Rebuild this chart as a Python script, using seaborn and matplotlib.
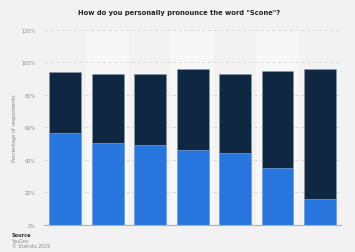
import matplotlib
matplotlib.use("Agg")
import matplotlib.pyplot as plt
import seaborn as sns
import numpy as np
import pandas as pd

categories = ["A", "B", "C", "D", "E", "F", "G"]
blue_vals = [56.3, 50.3, 48.9, 46.2, 44.0, 34.9, 15.8]
navy_vals = [37.5, 42.5, 43.9, 49.7, 48.8, 59.9, 79.9]
y_ticks = [0, 20, 40, 60, 80, 100, 120]
y_ticklabels = ["0%", "20%", "40%", "60%", "80%", "100%", "120%"]

sns.set_theme(style="white")
plt.rcParams['font.family'] = ['DejaVu Sans']

bg = "#f2f2f2"
fig = plt.figure(figsize=(3.55, 2.53), dpi=100, facecolor=bg)
ax = fig.add_axes([0.124, 0.108, 0.837, 0.771])
ax.set_facecolor(bg)

df = pd.DataFrame({"cat": categories,
                   "blue": blue_vals,
                   "total": np.array(blue_vals) + np.array(navy_vals)})

# alternating column bands
for i in range(len(categories)):
    if i % 2 == 1:
        ax.axvspan(i - 0.5, i + 0.5, color="#f7f7f7", zorder=0, lw=0)

for yv in y_ticks[1:]:
    ax.axhline(yv, color="#d6d6d6", lw=0.6, ls=(0, (4, 3)), zorder=0.5)

sns.barplot(data=df, x="cat", y="total", color="#0f2741", saturation=1,
            width=0.75, ax=ax, zorder=2, edgecolor="#8a96a6", linewidth=0.4)
sns.barplot(data=df, x="cat", y="blue", color="#2876dd", saturation=1,
            width=0.75, ax=ax, zorder=3, edgecolor="#8fb6ec", linewidth=0.4)

ax.set_xlim(-0.5, len(categories) - 0.5)
ax.set_ylim(0, 120)
ax.set_yticks(y_ticks)
ax.set_yticklabels(y_ticklabels, fontsize=3.6, color="#888888")
ax.set_xticks(range(len(categories)))
ax.set_xticklabels([""] * len(categories))
ax.tick_params(axis="both", length=0, pad=6)
ax.set_xlabel("")
ax.set_ylabel("Percentage of respondents", fontsize=3.6, color="#888888", labelpad=3)
for s in ["top", "right", "left"]:
    ax.spines[s].set_visible(False)
ax.spines["bottom"].set_color("#b0b0b0")
ax.spines["bottom"].set_linewidth(0.8)
ax.spines["bottom"].set_zorder(4)

fig.text(0.504, 0.949, 'How do you personally pronounce the word "Scone"?',
         ha="center", va="center", fontsize=4.9, fontweight="bold", color="#222222")
fig.text(0.034, 0.068, "Source", fontsize=3.6, color="#333333", fontweight="bold", va="center")
fig.text(0.034, 0.045, "YouGov", fontsize=3.4, color="#888888", va="center")
fig.text(0.034, 0.024, "© Statista 2025", fontsize=3.4, color="#888888", va="center")

fig.savefig("out.png", dpi=100, facecolor=bg)
